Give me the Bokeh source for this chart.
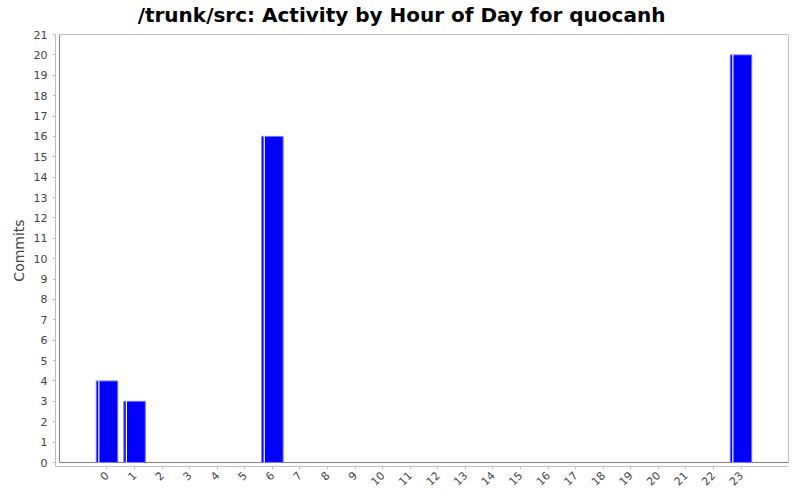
import math
from bokeh.plotting import figure
from bokeh.models import Range1d, FixedTicker, BoxAnnotation, ColumnDataSource, Label
from bokeh.embed import file_html
from bokeh.resources import INLINE

# ---- data ----
hours = list(range(24))
hour_labels = [str(h) for h in hours]
commits = [4, 3, 0, 0, 0, 0, 16, 0, 0, 0, 0, 0, 0, 0, 0, 0, 0, 0, 0, 0, 0, 0, 0, 20]
y_ticks = list(range(0, 22))
title_text = "/trunk/src: Activity by Hour of Day for quocanh"
y_label = "Commits"

# ---- layout constants ----
W, H = 800, 500
ML, MR, MT, MB = 55, 12, 34, 34
frame_w = W - ML - MR
frame_h = H - MT - MB
cat_margin = 1.723          # category-axis margin (units) on each side
axis_gap = 4                # px gap between plot box and axes
inner_units = (len(hours) - 1) + 2 * cat_margin
ppu_x = (frame_w - axis_gap) / inner_units
x_inner_left = -cat_margin
x_start = x_inner_left - axis_gap / ppu_x
x_end = (len(hours) - 1) + cat_margin
y_top = 21
ppu_y = (frame_h - axis_gap) / y_top
y_start = -axis_gap / ppu_y

bar_half = 0.39
strip = 2.6 / ppu_x

nz = [i for i, v in enumerate(commits) if v > 0]
src = ColumnDataSource(dict(
    x=[hours[i] for i in nz],
    left=[hours[i] - bar_half for i in nz],
    right=[hours[i] + bar_half for i in nz],
    wl=[hours[i] - bar_half + strip for i in nz],
    top=[commits[i] for i in nz],
    bottom=[0] * len(nz),
))

p = figure(width=W, height=H, output_backend="svg", toolbar_location=None, title=None,
           x_range=Range1d(x_start, x_end), y_range=Range1d(y_start, y_top),
           min_border_left=ML, min_border_right=MR, min_border_top=MT, min_border_bottom=MB,
           background_fill_color="white", border_fill_color="white")

# title as a label in the panel above the frame
p.add_layout(Label(x=W / 2 - ML + 1, y=20, x_units="screen", y_units="screen",
                   text=title_text, text_align="center", text_baseline="alphabetic",
                   text_font="DejaVu Sans", text_font_size="20px", text_font_style="bold",
                   text_color="black"), "above")

p.outline_line_color = None
p.xgrid.visible = False
p.ygrid.visible = False

# plot box (inner frame)
p.add_layout(BoxAnnotation(left=x_inner_left, bottom=0, fill_color=None, fill_alpha=0,
                           line_color="#808080", line_alpha=1.0, line_width=1,
                           level="underlay"))

# bars
p.quad(left="left", right="right", bottom="bottom", top="top", source=src,
       fill_color="#0000ff", line_color="#7777ff", line_width=1)
p.segment(x0="wl", x1="wl", y0="bottom", y1="top", source=src,
          line_color="white", line_width=1.2)

# axes
for ax in (p.xaxis[0], p.yaxis[0]):
    ax.axis_line_color = "#c0c0c0"
    ax.major_tick_line_color = "#c0c0c0"
    ax.minor_tick_line_color = None
    ax.major_tick_in = 0
    ax.major_tick_out = 3
    ax.major_label_text_font = "DejaVu Sans"
    ax.major_label_text_font_size = "11px"
    ax.major_label_text_color = "#444444"

p.xaxis.ticker = FixedTicker(ticks=hours)
p.xaxis.major_label_overrides = {h: lab for h, lab in zip(hours, hour_labels)}
p.xaxis.major_label_orientation = math.pi / 4
p.xaxis.major_label_standoff = 4

p.yaxis.ticker = FixedTicker(ticks=y_ticks)
p.yaxis.major_label_standoff = 5
p.yaxis.axis_label = y_label
p.yaxis.axis_label_text_font = "DejaVu Sans"
p.yaxis.axis_label_text_font_size = "14px"
p.yaxis.axis_label_text_font_style = "normal"
p.yaxis.axis_label_text_color = "#444444"
p.yaxis.axis_label_standoff = 4

open("out.html", "w").write(file_html(p, INLINE))
